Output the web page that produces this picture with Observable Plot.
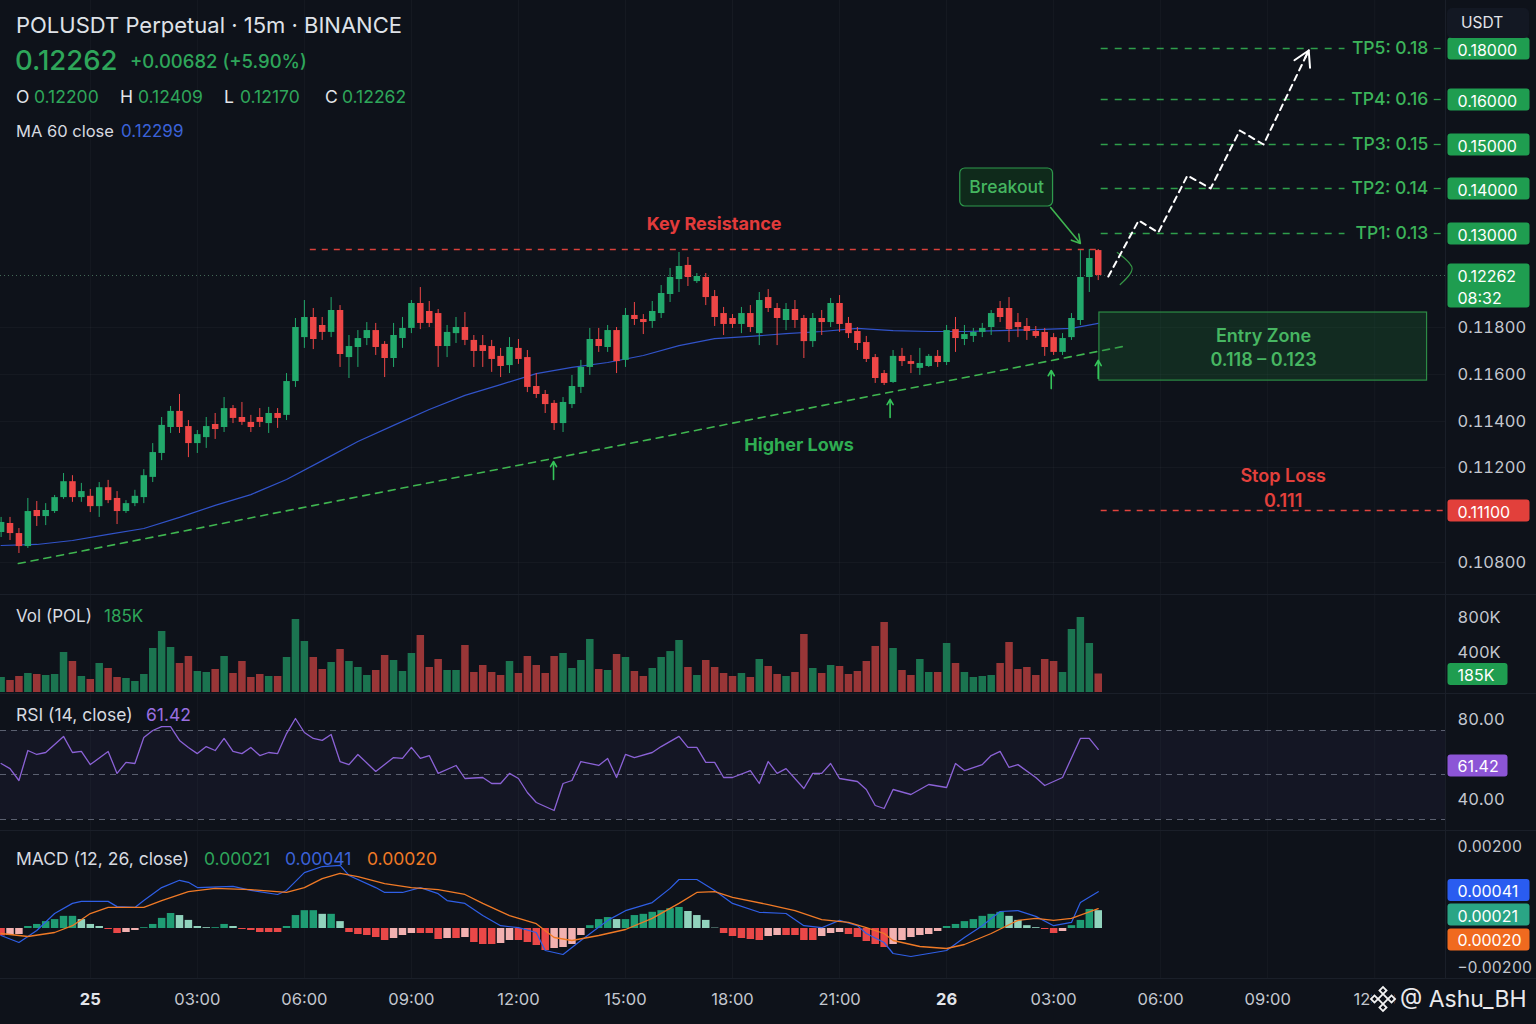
<!DOCTYPE html>
<html>
<head>
<meta charset="utf-8">
<script src="https://cdn.jsdelivr.net/npm/d3@7"></script>
<script src="https://cdn.jsdelivr.net/npm/@observablehq/plot@0.6"></script>
<style>
  html,body{margin:0;padding:0;background:#0e121a;}
  #chart{position:relative;width:1536px;height:1024px;background:#0e121a;overflow:hidden;font-family:Inter,"Noto Sans",sans-serif;}
  .pane{position:absolute;left:0;width:1536px;}
  .t{position:absolute;white-space:nowrap;line-height:1;transform:translateY(-50%);}
  .sep{position:absolute;left:0;width:1536px;height:1px;background:#1a1f29;}
</style>
</head>
<body>
<div id="chart"></div>
<script>
// ================= DATA =================
const symbolTitle = "POLUSDT Perpetual · 15m · BINANCE";
const lastPrice = 0.12262, priceChange = 0.00682, priceChangePct = 5.90;
const ohlcLast = [["O", 0.12200], ["H", 0.12409], ["L", 0.12170], ["C", 0.12262]];
const maLast = 0.12299;
const volLast = 185000;
const rsiLast = 61.42;
const macdLast = {hist: 0.00021, macd: 0.00041, signal: 0.00020};
const countdown = "08:32";
const watermark = "@ Ashu_BH";

const firstCandle = "2025-01-24T21:30:00Z";   // 15m candles
const opens = [
.10973,.11025,.10967,.10892,.11100,.11065,.11094,.11130,.11167,.11130,
.11133,.11109,.11153,.11128,.11094,.11116,.11130,.11177,.11261,.11374,
.11443,.11378,.11304,.11330,.11387,.11374,.11455,.11417,.11396,.11417,
.11391,.11434,.11426,.11570,.11757,.11889,.11818,.11779,.11951,.11672,
.11715,.11753,.11787,.11728,.11668,.11753,.11796,.12013,.11942,.11924,
.11719,.11774,.11800,.11745,.11723,.11719,.11677,.11638,.11711,.11672,
.11549,.11515,.11477,.11391,.11472,.11545,.11630,.11749,.11715,.11787,
.11660,.11907,.11871,.11853,.11924,.12093,.12226,.12319,.12208,.12244,
.12075,.11924,.11880,.11827,.11924,.11774,.12066,.11969,.11862,.11960,
.11880,.11740,.11880,.11844,.12013,.11836,.11783,.11736,.11672,.11604,
.11566,.11677,.11655,.11626,.11634,.11677,.11651,.11791,.11749,.11762,
.11779,.11800,.11969,.11969,.11844,.11809,.11783,.11779,.11757,.11694,
.11757,.11862,.12244,.12403];
const highs = [
.11060,.11060,.10996,.11128,.11121,.11116,.11135,.11186,.11181,.11163,
.11149,.11165,.11170,.11144,.11123,.11147,.11195,.11304,.11417,.11464,
.11515,.11404,.11361,.11417,.11434,.11502,.11468,.11481,.11426,.11455,
.11460,.11455,.11604,.11880,.12040,.11969,.11889,.12066,.11995,.11766,
.11787,.11844,.11836,.11740,.11836,.11889,.12040,.12155,.12031,.11960,
.11818,.11889,.11933,.11766,.11766,.11745,.11711,.11757,.11749,.11702,
.11604,.11532,.11489,.11502,.11596,.11660,.11796,.11796,.11818,.11800,
.11969,.12022,.11915,.12031,.12173,.12302,.12392,.12364,.12273,.12273,
.12129,.11978,.11915,.11978,.11995,.12111,.12137,.12013,.12013,.12040,
.11907,.11924,.11951,.12058,.12084,.11889,.11800,.11762,.11685,.11617,
.11702,.11711,.11681,.11711,.11685,.11702,.11818,.11889,.11818,.11796,
.11836,.11951,.12031,.12066,.11924,.11880,.11809,.11796,.11774,.11774,
.11924,.12403,.12409,.12409];
const lows = [
.10944,.10927,.10852,.10881,.11008,.11013,.11083,.11126,.11119,.11119,
.11088,.11060,.11116,.11019,.11083,.11109,.11116,.11165,.11230,.11348,
.11348,.11243,.11261,.11283,.11322,.11352,.11391,.11383,.11352,.11374,
.11348,.11370,.11404,.11545,.11711,.11706,.11745,.11757,.11630,.11583,
.11630,.11723,.11681,.11587,.11630,.11711,.11774,.11791,.11800,.11630,
.11672,.11732,.11723,.11630,.11630,.11609,.11587,.11604,.11643,.11523,
.11498,.11434,.11361,.11352,.11455,.11519,.11596,.11694,.11694,.11604,
.11630,.11818,.11770,.11796,.11880,.12022,.12111,.12164,.12191,.11995,
.11809,.11766,.11796,.11774,.11779,.11723,.11933,.11723,.11787,.11796,
.11668,.11715,.11766,.11800,.11779,.11753,.11702,.11651,.11562,.11553,
.11562,.11634,.11604,.11596,.11630,.11630,.11638,.11694,.11723,.11736,
.11757,.11766,.11844,.11736,.11757,.11745,.11753,.11677,.11681,.11681,
.11745,.11818,.12111,.12217];
const closes = [
.11031,.10967,.10892,.11094,.11065,.11100,.11130,.11167,.11130,.11144,
.11109,.11153,.11123,.11094,.11116,.11133,.11181,.11265,.11383,.11443,
.11374,.11304,.11343,.11378,.11365,.11455,.11413,.11396,.11374,.11396,
.11434,.11413,.11570,.11800,.11889,.11749,.11779,.11951,.11685,.11719,
.11753,.11787,.11715,.11668,.11766,.11796,.12013,.11836,.11836,.11719,
.11779,.11800,.11745,.11698,.11698,.11664,.11634,.11715,.11664,.11545,
.11515,.11472,.11391,.11481,.11549,.11630,.11749,.11719,.11787,.11655,
.11907,.11871,.11844,.11942,.12102,.12244,.12313,.12244,.12253,.12066,
.11889,.11827,.11827,.11924,.11800,.12040,.11969,.11880,.11960,.11862,
.11740,.11880,.11844,.12013,.11827,.11774,.11732,.11664,.11583,.11562,
.11677,.11655,.11643,.11647,.11677,.11651,.11787,.11753,.11770,.11779,
.11796,.11924,.11889,.11791,.11800,.11783,.11762,.11715,.11694,.11753,
.11880,.12244,.12358,.12262];
const volumesK = [
150,120,160,190,180,170,180,400,310,160,
130,290,240,150,140,110,180,446,640,457,
290,360,210,200,230,360,190,310,150,180,
160,160,350,777,526,350,230,300,434,310,
250,170,220,370,320,210,390,594,250,330,
220,220,480,200,270,200,170,310,190,360,
270,190,360,390,240,320,549,230,220,380,
350,210,160,240,350,411,537,250,170,320,
250,190,160,190,150,330,260,180,160,200,
606,240,190,270,260,180,210,310,469,743,
446,220,170,330,200,200,503,290,200,150,
160,170,290,514,230,250,170,330,310,200,
663,800,503,185];
// MA 60 (candle index, value)
const ma60 = [[0,.10898],[4,.10904],[8,.10927],[12,.10962],[16,.10996],[20,.11060],[24,.11112],[28,.11137],
[32,.11172],[36,.11230],[40,.11313],[44,.11383],[48,.11451],[52,.11511],[56,.11557],[60,.11604],[64,.11630],
[68,.11651],[72,.11681],[76,.11723],[80,.11753],[84,.11762],[88,.11774],[92,.11783],[96,.11796],[100,.11787],
[104,.11783],[108,.11783],[112,.11787],[116,.11791],[120,.11796],[123,.11836]];
// RSI 14 (candle index, value)
const rsi = [[0,55.0],[1,52.7],[2,47.6],[3,60.9],[4,59.1],[5,60.0],[7,67.3],[8,60.0],[9,60.5],[10,54.5],
[12,60.5],[13,50.5],[14,55.5],[15,55.0],[16,66.8],[17,70.0],[18,73.6],[19,73.6],[20,65.5],[21,62.3],[22,59.5],
[23,62.7],[24,60.9],[25,66.4],[26,60.5],[27,59.5],[28,62.3],[29,58.6],[30,60.0],[31,59.5],[32,68.6],[33,80.9],
[34,69.1],[35,66.4],[36,65.5],[37,68.2],[38,55.9],[39,54.5],[40,59.1],[42,51.4],[44,57.7],[45,57.3],[46,62.3],
[47,57.3],[48,58.6],[49,50.5],[51,54.1],[52,48.4],[54,48.8],[55,46.4],[56,46.4],[57,50.5],[58,48.4],[59,42.8],
[60,38.5],[62,34.5],[63,46.4],[64,47.6],[65,55.9],[67,54.1],[68,57.3],[69,48.8],[70,59.1],[71,57.7],[73,60.0],
[74,62.7],[76,67.3],[77,62.3],[78,62.3],[79,55.5],[80,55.5],[81,48.8],[82,48.8],[84,51.8],[85,46.4],[86,55.9],
[87,50.5],[88,52.7],[90,44.4],[91,50.5],[92,50.5],[93,55.0],[94,48.4],[96,47.2],[97,44.0],[98,37.0],[99,35.5],
[100,44.0],[102,42.0],[104,46.0],[106,44.8],[107,55.0],[108,51.8],[110,54.5],[111,58.6],[112,60.5],[113,53.2],
[114,54.5],[116,48.8],[117,45.6],[119,48.8],[121,66.4],[122,66.4],[123,61.42]];
// MACD line and signal (candle index, value)
const macdLine = [[0,-.00035],[2,-.00070],[4,-.00010],[6,.00037],[8,.00062],[9,.00067],[12,.00067],[13,.00054],
[15,.00052],[16,.00069],[18,.00101],[20,.00119],[21,.00114],[22,.00101],[26,.00104],[28,.00094],[31,.00084],
[32,.00094],[34,.00138],[36,.00153],[38,.00156],[39,.00131],[42,.00101],[43,.00089],[45,.00089],[47,.00101],
[49,.00086],[50,.00069],[52,.00062],[54,.00032],[56,.00007],[58,.00002],[60,-.00020],[61,-.00110],[63,-.00130],
[65,-.00060],[68,.00020],[70,.00044],[73,.00064],[75,.00099],[76,.00121],[78,.00121],[80,.00094],[82,.00062],
[85,.00040],[88,.00037],[90,.00007],[92,.00002],[94,.00020],[96,.00007],[97,-.00025],[99,-.00070],[100,-.00125],
[102,-.00140],[104,-.00125],[106,-.00110],[108,-.00045],[110,.00007],[112,.00042],[114,.00044],[116,.00030],
[118,.00007],[120,.00015],[121,.00064],[123,.00091]];
const signalLine = [[0,-.00025],[3,-.00040],[6,-.00020],[8,.00007],[10,.00037],[12,.00052],[16,.00052],[18,.00069],
[21,.00091],[24,.00099],[28,.00096],[32,.00089],[34,.00101],[36,.00123],[38,.00136],[40,.00128],[43,.00111],
[46,.00101],[49,.00096],[52,.00084],[54,.00062],[57,.00032],[60,.00012],[62,-.00045],[64,-.00060],[67,-.00035],
[70,-.00005],[73,.00025],[76,.00062],[78,.00089],[80,.00091],[82,.00077],[86,.00059],[89,.00044],[92,.00022],
[95,.00015],[97,.00002],[99,-.00025],[100,-.00060],[103,-.00090],[106,-.00100],[108,-.00080],[111,-.00025],
[114,.00020],[116,.00025],[118,.00020],[120,.00025],[123,.00049]];
const histogram = [
-.00037,-.00035,-.00030,.00005,.00010,.00017,.00022,.00030,.00030,.00022,
.00010,.00005,-.00005,-.00025,-.00020,-.00010,.00002,.00010,.00025,.00037,
.00032,.00020,.00005,.00002,.00002,.00010,.00005,-.00005,-.00010,-.00020,
-.00020,-.00020,.00005,.00032,.00044,.00044,.00035,.00035,.00017,-.00020,
-.00030,-.00035,-.00045,-.00060,-.00050,-.00035,-.00025,-.00025,-.00025,-.00055,
-.00050,-.00050,-.00045,-.00070,-.00080,-.00080,-.00075,-.00060,-.00060,-.00070,
-.00085,-.00110,-.00100,-.00095,-.00080,-.00035,.00007,.00022,.00027,.00022,
.00022,.00032,.00035,.00040,.00044,.00049,.00052,.00042,.00032,.00020,
.00001,-.00025,-.00040,-.00050,-.00055,-.00060,-.00040,-.00035,-.00035,-.00035,
-.00060,-.00060,-.00040,-.00025,-.00020,-.00030,-.00045,-.00065,-.00080,-.00095,
-.00080,-.00060,-.00045,-.00035,-.00030,-.00015,.00005,.00010,.00017,.00022,
.00030,.00035,.00040,.00030,.00020,.00007,.00002,-.00005,-.00025,-.00015,
.00007,.00020,.00047,.00044];

// axis ticks
const timeTicks = ["2025-01-25T00:00Z","2025-01-25T03:00Z","2025-01-25T06:00Z","2025-01-25T09:00Z","2025-01-25T12:00Z",
  "2025-01-25T15:00Z","2025-01-25T18:00Z","2025-01-25T21:00Z","2025-01-26T00:00Z","2025-01-26T03:00Z",
  "2025-01-26T06:00Z","2025-01-26T09:00Z","2025-01-26T12:00Z"];
const timeTickLabels = ["25","03:00","06:00","09:00","12:00","15:00","18:00","21:00","26","03:00","06:00","09:00","12:00"];
const priceTicks = [0.118, 0.116, 0.114, 0.112, 0.108];
const volTicks = [400000, 800000];
const rsiTicks = [80, 40];
const rsiLevels = [70, 50, 30];
const macdTicks = [0.002, -0.002];

// trade plan annotations
const tpNames = ["TP1","TP2","TP3","TP4","TP5"];
const tpLevels = [0.13, 0.14, 0.15, 0.16, 0.18];
const stopLoss = 0.111;
const keyResistance = 0.12409;
const keyResistanceSpan = ["2025-01-25T06:10Z", "2025-01-26T04:20Z"];
const planStart = "2025-01-26T04:20Z";
const entryZone = {t1: "2025-01-26T04:17Z", t2: "2025-01-26T13:28Z", low: 0.11574, high: 0.11933, label: "Entry Zone\n0.118 – 0.123", tl: "2025-01-26T08:53Z", pl: 0.11720};
const stopLabel = {t: "2025-01-26T09:26Z", p: 0.11155, s: "Stop Loss\n0.111"};
const trendLine = [["2025-01-24T21:59Z", 0.10794], ["2025-01-26T05:04Z", 0.11723]];
const higherLows = [["2025-01-25T12:59Z", 0.11172, 0.11226], ["2025-01-25T22:25Z", 0.11417, 0.11494],
                    ["2025-01-26T02:56Z", 0.11540, 0.11617], ["2025-01-26T04:15Z", 0.11583, 0.11660]];
const projection = [["2025-01-26T04:32Z",0.12253],["2025-01-26T05:23Z",0.13289],["2025-01-26T05:56Z",0.13022],
  ["2025-01-26T06:45Z",0.14295],["2025-01-26T07:24Z",0.14000],["2025-01-26T08:13Z",0.15311],
  ["2025-01-26T08:53Z",0.15000],["2025-01-26T10:09Z",0.17922]];
const breakoutArc = [["2025-01-26T04:47Z", 0.12392], ["2025-01-26T05:12Z", 0.12302], ["2025-01-26T04:52Z", 0.12182]];
const breakout = {t1: "2025-01-26T00:23Z", t2: "2025-01-26T02:59Z", p1: 0.13600, p2: 0.14455, tl: "2025-01-26T01:41Z", pl: 0.14023,
  arrow: [["2025-01-26T02:55Z", 0.13578], ["2025-01-26T03:45Z", 0.12631]]};
const textLabels = [{t: "2025-01-25T17:29Z", p: 0.132, s: "Key Resistance", c: "#e23b3b"},
                    {t: "2025-01-25T19:52Z", p: 0.11296, s: "Higher Lows", c: "#2fae52"}];

// ================= RENDER =================
const T = s => new Date(s);
const STEP = 15 * 60 * 1000;
const t0 = T(firstCandle).getTime();
const tAt = i => new Date(t0 + i * STEP);
const GREEN = "#22a86b", RED = "#ee4646";
const FONT = "Inter, 'Noto Sans', sans-serif";
const f5 = d3.format(".5f");

const candles = closes.map((c, i) => ({t: tAt(i), o: opens[i], h: highs[i], l: lows[i], c, v: volumesK[i] * 1000,
  col: c >= opens[i] ? GREEN : RED, vcol: c >= opens[i] ? "#1d7f56" : "#a83b3b"}));
const histData = histogram.map((v, i) => {
  const p = i ? histogram[i - 1] : v;
  return {t: tAt(i), v, col: v >= 0 ? (v >= p ? "#1f9d74" : "#91d3bd") : (v <= p ? "#ea4848" : "#f2b1b1")};
});
const pairs = arr => arr.map(([i, v]) => ({t: tAt(i), v}));
const ticksT = timeTicks.map(T);

const xOpt = {type: "utc", domain: [T("2025-01-24T21:29Z"), T("2025-01-26T13:59Z")], range: [0, 1445], axis: null};

// piecewise price axis of the reference (value stops -> pane pixel), used as the y scale's transform
const warp = (stops, px) => d3.scaleLinear().domain(stops).range(px);
function pane(h, warpFn, marks) {
  return Plot.plot({
    width: 1536, height: h, marginLeft: 0, marginRight: 91, marginTop: 0, marginBottom: 0,
    x: xOpt, y: {transform: warpFn, domain: [0, h], range: [0, h], axis: null}, color: {type: "identity"},
    style: {background: "transparent", overflow: "visible", color: "#c3c7cf", fontFamily: FONT},
    marks
  });
}
// badge box symbol (rounded rectangle drawn to the right of the frame edge)
const boxSymbol = (w, h) => ({draw(ctx) {
  const x0 = 2, y0 = -h / 2, r = 3;
  ctx.moveTo(x0 + r, y0); ctx.lineTo(x0 + w - r, y0); ctx.arcTo(x0 + w, y0, x0 + w, y0 + r, r);
  ctx.lineTo(x0 + w, y0 + h - r); ctx.arcTo(x0 + w, y0 + h, x0 + w - r, y0 + h, r);
  ctx.lineTo(x0 + r, y0 + h); ctx.arcTo(x0, y0 + h, x0, y0 + h - r, r);
  ctx.lineTo(x0, y0 + r); ctx.arcTo(x0, y0, x0 + r, y0, r); ctx.closePath();
}});
function badge(value, text, fill, w = 82, shift = 0) {
  const lines = text.split("\n").length;
  const h = lines > 1 ? 44 : 22;
  return [
    Plot.dot([value], {y: d => d, frameAnchor: "right", dy: shift, symbol: boxSymbol(w, h), fill, stroke: "none", r: 5}),
    Plot.text([value], {y: d => d, frameAnchor: "right", dx: 12, dy: shift, text: () => text, textAnchor: "start",
      lineAnchor: "middle", lineHeight: 1.375, fill: "#ffffff", fontSize: 16})
  ];
}
const grid = () => Plot.ruleX(ticksT, {stroke: "#ffffff", strokeOpacity: 0.035});
const axisR = (ticks, fmt, size = 16.5) => Plot.axisY(ticks, {anchor: "right", tickSize: 0, tickPadding: 12, tickFormat: fmt,
  fontSize: size, label: null, textAnchor: "start"});

const chart = document.getElementById("chart");
function place(node, top) { node.classList.add("pane"); node.style.top = top + "px"; chart.appendChild(node); }

// ---- main price pane ----
const priceWarp = warp([0.108, 0.111, 0.112, 0.114, 0.116, 0.118, 0.12262, 0.12409, 0.13, 0.14, 0.15, 0.16, 0.18],
                       [562,   510,   467,   421,   374,   327,   275,     249,     233,  188,  144,  99,   48]);
const tpSeg1 = tpLevels.map((p, i) => ({p, s: tpNames[i], t1: T(planStart), t2: T("2025-01-26T11:10Z")}));
const tpSeg2 = tpLevels.map(p => ({p, t1: T("2025-01-26T13:40Z"), t2: T("2025-01-26T13:59Z")}));
const lastSeg = projection.slice(-2);

const main = pane(595, priceWarp, [
  grid(),
  Plot.ruleY(priceTicks, {stroke: "#ffffff", strokeOpacity: 0.03}),
  Plot.ruleY([lastPrice], {stroke: "#5a8f72", strokeOpacity: 0.7, strokeDasharray: "1,3"}),
  Plot.ruleY([keyResistance], {x1: T(keyResistanceSpan[0]), x2: T(keyResistanceSpan[1]), stroke: "#d8403b", strokeDasharray: "6,6", strokeWidth: 1.3}),
  Plot.line(trendLine, {x: d => T(d[0]), y: d => d[1], stroke: "#3fb550", strokeWidth: 1.6, strokeDasharray: "7,6"}),
  Plot.line(pairs(ma60), {x: "t", y: "v", stroke: "#3153c9", strokeWidth: 1.2}),
  Plot.rect([entryZone], {x1: d => T(d.t1), x2: d => T(d.t2), y1: "low", y2: "high", fill: "#1d6b36", fillOpacity: 0.28, stroke: "#2c8c45", strokeWidth: 1.2}),
  Plot.text([entryZone], {x: d => T(d.tl), y: "pl", text: "label", fill: "#47b662", fontSize: 18, lineHeight: 1.35, fontWeight: 600}),
  Plot.ruleX(candles, {x: "t", y1: "l", y2: "h", stroke: "col", strokeWidth: 1}),
  Plot.ruleX(candles, {x: "t", y1: "o", y2: "c", stroke: "col", strokeWidth: 6.5}),
  Plot.line(breakoutArc, {x: d => T(d[0]), y: d => d[1], curve: "catmull-rom", stroke: "#3fb550", strokeWidth: 1.2, strokeOpacity: 0.8}),
  Plot.ruleY(tpSeg1, {y: "p", x1: "t1", x2: "t2", stroke: "#2f9e4b", strokeWidth: 1.3, strokeDasharray: "7,7"}),
  Plot.ruleY(tpSeg2, {y: "p", x1: "t1", x2: "t2", stroke: "#2f9e4b", strokeWidth: 1.3, strokeDasharray: "7,7"}),
  Plot.text(tpSeg1, {x: () => T("2025-01-26T13:30Z"), y: "p", text: d => `${d.s}: ${d.p}`, textAnchor: "end", fill: "#3cb45a", fontSize: 17.5, fontWeight: 500}),
  Plot.ruleY([stopLoss], {x1: T(planStart), x2: T("2025-01-26T13:59Z"), stroke: "#e0443e", strokeWidth: 1.3, strokeDasharray: "6,6"}),
  Plot.text([stopLabel], {x: d => T(d.t), y: "p", text: "s", fill: "#e3403c", fontSize: 18, lineHeight: 1.35, fontWeight: 600}),
  Plot.text(textLabels, {x: d => T(d.t), y: "p", text: "s", fill: "c", fontSize: 18, fontWeight: 700}),
  Plot.arrow(higherLows, {x1: d => T(d[0]), x2: d => T(d[0]), y1: d => d[1], y2: d => d[2], stroke: "#35c45a", strokeWidth: 1.6, headLength: 8}),
  Plot.line(projection, {x: d => T(d[0]), y: d => d[1], stroke: "#ffffff", strokeWidth: 2, strokeDasharray: "6,5"}),
  Plot.arrow([lastSeg], {x1: d => T(d[0][0]), y1: d => d[0][1], x2: d => T(d[1][0]), y2: d => d[1][1], stroke: "#ffffff", strokeWidth: 2, headLength: 13, insetStart: 96}),
  Plot.rect([breakout], {x1: d => T(d.t1), x2: d => T(d.t2), y1: "p1", y2: "p2", fill: "#0f2a1b", stroke: "#2e9a4c", strokeWidth: 1.2, rx: 5}),
  Plot.text([breakout], {x: d => T(d.tl), y: "pl", text: () => "Breakout", fill: "#45b660", fontSize: 17.5, fontWeight: 500}),
  Plot.arrow([breakout.arrow], {x1: d => T(d[0][0]), y1: d => d[0][1], x2: d => T(d[1][0]), y2: d => d[1][1], stroke: "#3fb550", strokeWidth: 1.6, headLength: 9}),
  axisR(priceTicks, f5),
  ...tpLevels.flatMap(v => badge(v, f5(v), "#1f9d50")),
  ...badge(lastPrice, f5(lastPrice) + "\n" + countdown, "#1f9d50", 82, 10),
  ...badge(stopLoss, f5(stopLoss), "#e2403b")
]);
place(main, 0);

// ---- volume pane ----
const vol = pane(98, warp([0, 400000, 800000], [97, 57, 22]), [
  grid(),
  Plot.ruleX(candles, {x: "t", y1: () => 0, y2: "v", stroke: "vcol", strokeWidth: 7.5, strokeOpacity: 0.9}),
  axisR(volTicks, d => d / 1000 + "K"),
  ...badge(volLast, volLast / 1000 + "K", "#1f9d50", 60)
]);
place(vol, 595);

// ---- RSI pane ----
const rsiPane = pane(137, warp([30, 40, 50, 70, 80], [126, 106, 81, 37, 26]), [
  grid(),
  Plot.rect([{y1: 30, y2: 70}], {x1: () => xOpt.domain[0], x2: () => xOpt.domain[1], y1: "y1", y2: "y2", fill: "#6a4fb0", fillOpacity: 0.07}),
  Plot.ruleY(rsiLevels, {stroke: "#5b6070", strokeDasharray: "6,5", strokeWidth: 1}),
  Plot.line(pairs(rsi), {x: "t", y: "v", stroke: "#8b62d6", strokeWidth: 1.3}),
  axisR(rsiTicks, d3.format(".2f")),
  ...badge(rsiLast, rsiLast.toFixed(2), "#8c55d6", 60, 16)
]);
place(rsiPane, 693);

// ---- MACD pane ----
const macdPane = pane(148, warp([-0.002, 0, 0.002], [138, 98, 17]), [
  grid(),
  Plot.ruleX(histData, {x: "t", y1: () => 0, y2: "v", stroke: "col", strokeWidth: 7.5}),
  Plot.line(pairs(macdLine), {x: "t", y: "v", stroke: "#2f5fe6", strokeWidth: 1.2}),
  Plot.line(pairs(signalLine), {x: "t", y: "v", stroke: "#f07a26", strokeWidth: 1.3}),
  axisR(macdTicks, f5, 15.5),
  ...badge(macdLast.macd, f5(macdLast.macd), "#2a5cf0", 82, -22),
  ...badge(macdLast.hist, f5(macdLast.hist), "#2aa585", 82, -5.5),
  ...badge(macdLast.signal, f5(macdLast.signal), "#f06a1f", 82, 19)
]);
place(macdPane, 830);

// ---- time axis ----
const tickObjs = ticksT.map((t, i) => ({t, s: timeTickLabels[i], bold: !timeTickLabels[i].includes(":")}));
const timeAxis = pane(46, warp([0, 1], [46, 0]), [
  Plot.text(tickObjs.filter(d => !d.bold), {x: "t", frameAnchor: "middle", dy: -2, text: "s", fill: "#c3c7cf", fontSize: 16.5}),
  Plot.text(tickObjs.filter(d => d.bold), {x: "t", frameAnchor: "middle", dy: -2, text: "s", fill: "#e3e5ea", fontSize: 16.5, fontWeight: 700})
]);
place(timeAxis, 978);

// ---- separators & text overlays ----
[594, 693, 830, 978].forEach(y => { const d = document.createElement("div"); d.className = "sep"; d.style.top = y + "px"; chart.appendChild(d); });
const vsep = document.createElement("div");
vsep.style.cssText = "position:absolute;left:1445px;top:0;width:1px;height:978px;background:#1a1f29;";
chart.appendChild(vsep);

function txt(s, x, y, size, color, weight) {
  const d = document.createElement("div");
  d.className = "t"; d.textContent = s;
  d.style.left = x + "px"; d.style.top = y + "px"; d.style.fontSize = size + "px"; d.style.color = color;
  if (weight) d.style.fontWeight = weight;
  chart.appendChild(d); return d;
}
const HG = "#2ea65a";
txt(symbolTitle, 16, 25, 22, "#dfe2e8");
txt(lastPrice.toFixed(5), 15, 61, 27.5, HG, 500);
txt(`+${priceChange.toFixed(5)} (+${priceChangePct.toFixed(2)}%)`, 130, 61, 18.5, HG, 500);
const ohlcX = [[16, 34], [120, 138], [224, 240], [325, 342]];
ohlcLast.forEach(([k, v], i) => { txt(k, ohlcX[i][0], 97, 17.5, "#e3e5ea"); txt(v.toFixed(5), ohlcX[i][1], 97, 17.5, HG); });
txt("MA 60 close", 16, 131, 16.5, "#d7dae0");
txt(maLast.toFixed(5), 121, 131, 17, "#3b62d8");
txt("Vol (POL)", 16, 616, 17, "#d7dae0");
txt(volLast / 1000 + "K", 104, 616, 17, HG);
txt("RSI (14, close)", 16, 715, 17.5, "#d7dae0");
txt(rsiLast.toFixed(2), 146, 715, 17.5, "#9a6fe0");
txt("MACD (12, 26, close)", 16, 859, 17.5, "#d7dae0");
txt(macdLast.hist.toFixed(5), 204, 859, 17.5, HG);
txt(macdLast.macd.toFixed(5), 285, 859, 17.5, "#3b62d8");
txt(macdLast.signal.toFixed(5), 367, 859, 17.5, "#f07a26");

// USDT currency box
const ub = document.createElement("div");
ub.style.cssText = "position:absolute;left:1447px;top:8px;width:82px;height:30px;border-radius:5px;background:#131823;";
chart.appendChild(ub);
txt("USDT", 1461, 23, 15.5, "#e3e5ea");

// watermark
const logo = document.createElementNS("http://www.w3.org/2000/svg", "svg");
logo.setAttribute("width", "28"); logo.setAttribute("height", "28"); logo.setAttribute("viewBox", "-14 -14 28 28");
logo.style.cssText = "position:absolute;left:1369px;top:985px;";
logo.innerHTML = '<circle r="12" fill="#0e121a"/><g fill="#0e121a" stroke="#f2f2f2" stroke-width="1.8">' +
  '<rect x="-3.5" y="-3.5" width="7" height="7" transform="rotate(45)"/>' +
  '<rect x="-2.5" y="-11" width="5" height="5" transform="rotate(45 0 -8.5)"/>' +
  '<rect x="-2.5" y="6" width="5" height="5" transform="rotate(45 0 8.5)"/>' +
  '<rect x="-11" y="-2.5" width="5" height="5" transform="rotate(45 -8.5 0)"/>' +
  '<rect x="6" y="-2.5" width="5" height="5" transform="rotate(45 8.5 0)"/></g>';
chart.appendChild(logo);
txt(watermark, 1400, 999, 23, "#e9e9ec");
</script>
</body>
</html>
